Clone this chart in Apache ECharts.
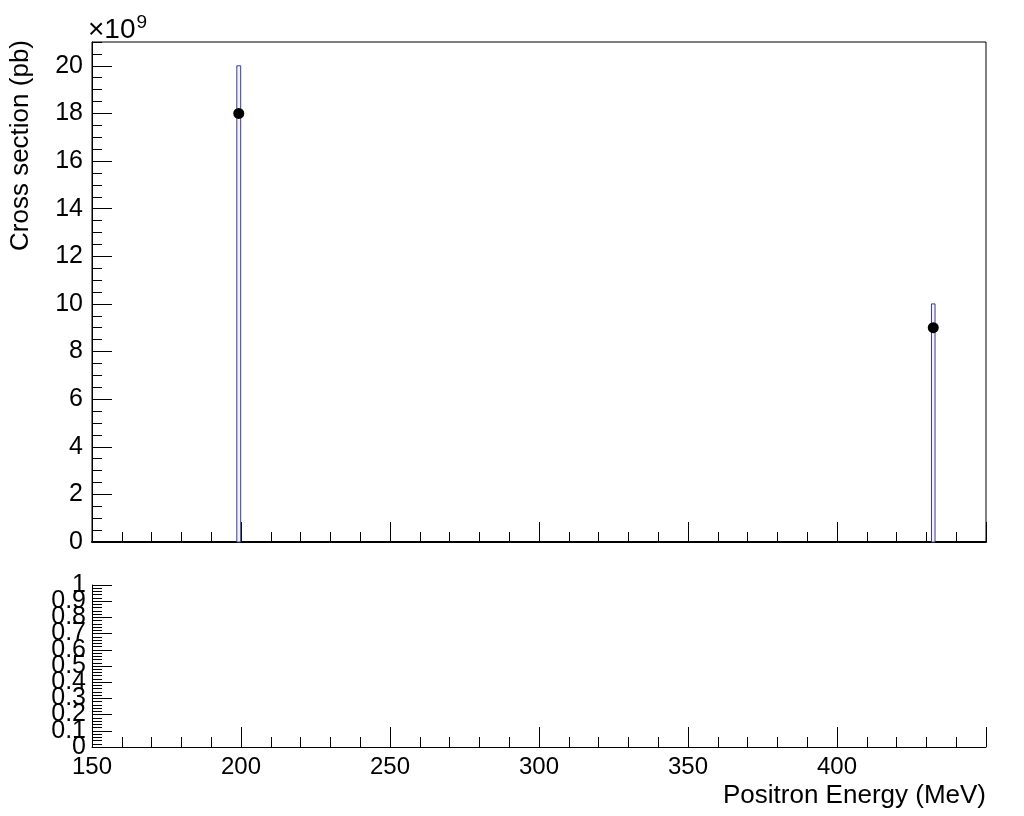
<!DOCTYPE html>
<html><head><meta charset="utf-8">
<script src="https://cdn.jsdelivr.net/npm/echarts@6/dist/echarts.min.js"></script>
<style>html,body{margin:0;padding:0;background:#fff}#c{width:1024px;height:816px}</style>
</head><body><div id="c"></div>
<script>
// Histogram bins (MeV) and contents (x10^9 pb)
const binLow = [198.6, 431.7];
const binHigh = [199.9, 432.9];
const histValues = [20, 10];
// Data points (MeV, x10^9 pb)
const pointX = [199.25, 432.3];
const pointValues = [18, 9];

const FONT = 'Liberation Sans';
const black = '#000';

const chart = echarts.init(document.getElementById('c'));
const xCommon = {
  type: 'value', min: 150, max: 450, interval: 50,
  axisLine: {show: true, lineStyle: {color: black, width: 1}},
  axisTick: {show: true, inside: true, length: 20, lineStyle: {color: black, width: 1}},
  minorTick: {show: true, splitNumber: 5, length: 10, lineStyle: {color: black, width: 1}},
  splitLine: {show: false}
};
const ratioLabel = {show: true, margin: 6, fontSize: 25, fontFamily: FONT, color: black};
chart.setOption({
  animation: false,
  backgroundColor: '#fff',
  grid: [
    {left: 92, top: 42, width: 894, height: 500, show: true, borderColor: black, borderWidth: 1, backgroundColor: 'transparent'},
    {left: 92, top: 585, width: 894, height: 162}
  ],
  xAxis: [
    Object.assign({}, xCommon, {gridIndex: 0, axisLabel: {show: false},
      axisLine: {show: true, lineStyle: {color: black, width: 2}}}),
    Object.assign({}, xCommon, {gridIndex: 1,
      axisLabel: {show: true, margin: 8, fontSize: 24, fontFamily: FONT, color: black, showMinLabel: true, showMaxLabel: false}})
  ],
  yAxis: [
    {type: 'value', gridIndex: 0, position: 'left', min: 0, max: 21, interval: 2,
      axisLine: {show: true, lineStyle: {color: black}},
      axisTick: {show: true, inside: true, length: 20, lineStyle: {color: black}},
      axisLabel: {show: true, margin: 9, fontSize: 25, fontFamily: FONT, color: black, showMinLabel: true, showMaxLabel: false},
      splitLine: {show: false}},
    {type: 'value', gridIndex: 0, position: 'left', min: 0, max: 21, interval: 0.5,
      axisLine: {show: false},
      axisTick: {show: true, inside: true, length: 10, lineStyle: {color: black}},
      axisLabel: {show: false}, splitLine: {show: false}},
    {type: 'value', gridIndex: 1, position: 'left', min: 0, max: 1, interval: 0.1,
      axisLine: {show: true, lineStyle: {color: black}},
      axisTick: {show: true, inside: true, length: 20, lineStyle: {color: black}},
      minorTick: {show: true, splitNumber: 5, length: 10, lineStyle: {color: black}},
      axisLabel: Object.assign({}, ratioLabel, {showMinLabel: false, showMaxLabel: false}),
      splitLine: {show: false}},
    {type: 'value', gridIndex: 1, position: 'left', min: 0, max: 1, interval: 1,
      axisLine: {show: false}, axisTick: {show: false},
      axisLabel: Object.assign({}, ratioLabel, {showMinLabel: true, showMaxLabel: true}),
      splitLine: {show: false}}
  ],
  series: [
    {type: 'custom', xAxisIndex: 0, yAxisIndex: 0, z: 2,
      data: binLow.map((l, i) => [l, binHigh[i], histValues[i]]),
      encode: {x: [0, 1], y: 2},
      renderItem: function (params, api) {
        const p0 = api.coord([api.value(0), api.value(2)]);
        const p1 = api.coord([api.value(1), 0]);
        return {type: 'rect', shape: {x: p0[0], y: p0[1], width: p1[0] - p0[0], height: p1[1] - p0[1]},
          style: {fill: '#f3f3fc', stroke: '#3a3a90', lineWidth: 1}};
      }},
    {type: 'scatter', xAxisIndex: 0, yAxisIndex: 0, z: 3,
      data: pointX.map((x, i) => [x, pointValues[i]]),
      symbol: 'circle', symbolSize: 11, itemStyle: {color: black, opacity: 1}}
  ],
  graphic: [
    {type: 'text', x: 21, y: 40, rotation: Math.PI / 2,
      style: {text: 'Cross section (pb)', font: '26px "Liberation Sans"', fill: black, textAlign: 'right', textVerticalAlign: 'middle'}},
    {type: 'text', x: 986, y: 796,
      style: {text: 'Positron Energy (MeV)', font: '26px "Liberation Sans"', fill: black, textAlign: 'right', textVerticalAlign: 'middle'}},
    {type: 'text', x: 88, y: 44,
      style: {text: '{a|×10}{b|9}', textVerticalAlign: 'bottom', fill: black,
        rich: {a: {fontSize: 28, fontFamily: FONT, color: black, verticalAlign: 'bottom', lineHeight: 30},
               b: {fontSize: 19, fontFamily: FONT, color: black, verticalAlign: 'top', padding: [0, 0, 12, 1]}}}}
  ]
});
</script></body></html>
